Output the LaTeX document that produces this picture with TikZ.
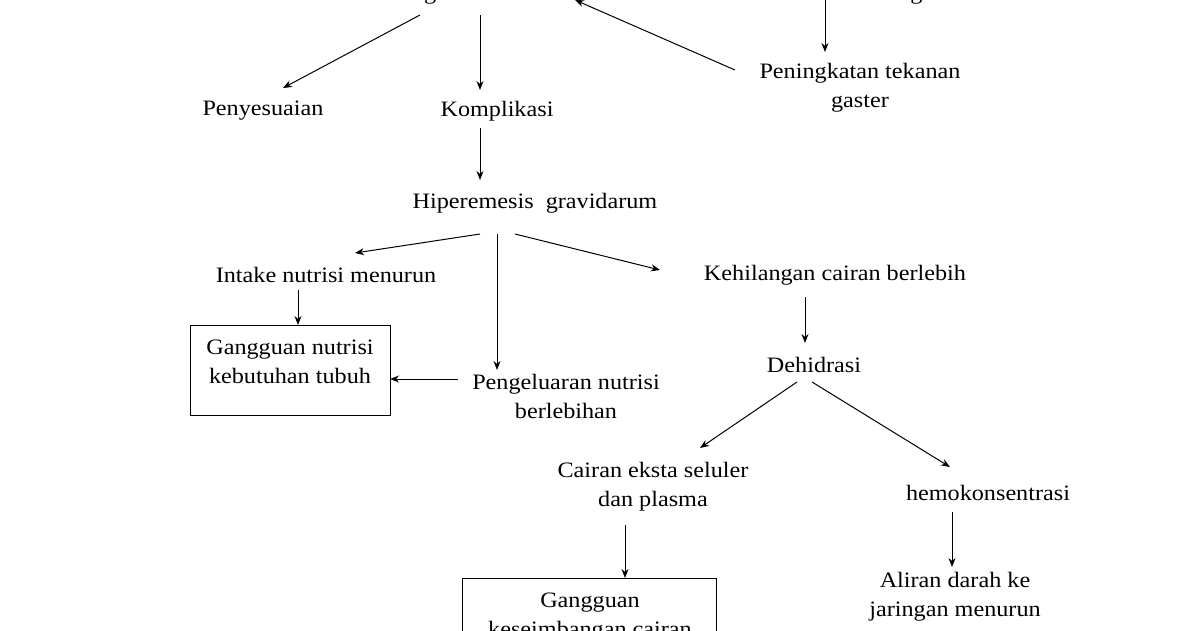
\documentclass[tikz,border=0pt]{standalone}
\usepackage{fontspec}
\setmainfont[FakeStretch=1.1]{Liberation Serif}
\usetikzlibrary{arrows.meta}
\begin{document}
\begin{tikzpicture}[x=1pt,y=-1pt,
  lbl/.style={align=center,font=\fontsize{22}{29}\selectfont,inner sep=0pt},
  arr/.style={-{Stealth[length=9pt,width=7pt]},line width=1pt},
  bx/.style={draw,line width=1pt}]
\useasboundingbox (0,0) rectangle (1200,630);
\node[lbl] (grav) at (480,-6) {gravidarum};
\node[lbl] (lamb) at (880,-6) {lambung};
\coordinate (l1) at (825,0); \coordinate (l2) at (825,52);
\draw[arr] (l1) -- (l2);
\node[lbl] (pen) at (860,88) {Peningkatan tekanan\\gaster};
\coordinate (p1) at (735,70); \coordinate (g1) at (575,0);
\draw[arr] (p1) -- (g1);
\node[lbl] (peny) at (263,111) {Penyesuaian};
\node[lbl] (komp) at (497,111) {Komplikasi};
\coordinate (g2) at (480,15); \coordinate (k1) at (480,90);
\draw[arr] (g2) -- (k1);
\coordinate (g3) at (420,15); \coordinate (s1) at (283,88);
\draw[arr] (g3) -- (s1);
\node[lbl] (hip) at (535,203) {Hiperemesis\ \ gravidarum};
\coordinate (k2) at (480,128); \coordinate (h0) at (480,180);
\draw[arr] (k2) -- (h0);
\node[lbl] (int) at (326,275) {Intake nutrisi menurun};
\node[lbl] (keh) at (835,275) {Kehilangan cairan berlebih};
\coordinate (h1) at (480,234); \coordinate (i1) at (355,253);
\draw[arr] (h1) -- (i1);
\coordinate (h2) at (497,234); \coordinate (pg1) at (497,370);
\draw[arr] (h2) -- (pg1);
\coordinate (h3) at (515,234); \coordinate (kh1) at (660,270);
\draw[arr] (h3) -- (kh1);
\draw[bx] (190,325) rectangle (390,415);
\node[lbl] (gn) at (290,362) {Gangguan nutrisi\\kebutuhan tubuh};
\coordinate (i2) at (298,290); \coordinate (b1) at (298,325);
\draw[arr] (i2) -- (b1);
\node[lbl] (pgl) at (566,396) {Pengeluaran nutrisi\\berlebihan};
\coordinate (pg2) at (458,379); \coordinate (b2) at (390,379);
\draw[arr] (pg2) -- (b2);
\node[lbl] (deh) at (814,365) {Dehidrasi};
\coordinate (kh2) at (805,297); \coordinate (d0) at (805,343);
\draw[arr] (kh2) -- (d0);
\node[lbl] (cai) at (653,487) {Cairan eksta seluler\\dan plasma};
\node[lbl] (hem) at (988,493) {hemokonsentrasi};
\coordinate (d1) at (797,382); \coordinate (c1) at (700,448);
\draw[arr] (d1) -- (c1);
\coordinate (d2) at (812,382); \coordinate (he1) at (950,467);
\draw[arr] (d2) -- (he1);
\draw[bx] (462,578) rectangle (716,650);
\node[lbl] (gk) at (590,617) {Gangguan\\keseimbangan cairan};
\coordinate (c2) at (625,525); \coordinate (b3) at (625,578);
\draw[arr] (c2) -- (b3);
\node[lbl] (ali) at (955,597) {Aliran darah ke\\jaringan menurun};
\coordinate (he2) at (952,512); \coordinate (a0) at (952,567);
\draw[arr] (he2) -- (a0);
\end{tikzpicture}
\end{document}
